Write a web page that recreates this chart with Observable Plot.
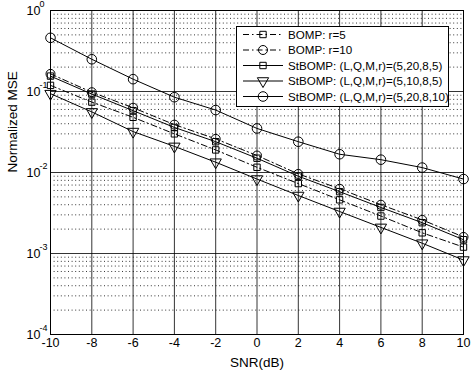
<!DOCTYPE html>
<html><head><meta charset="utf-8">
<script src="https://cdn.jsdelivr.net/npm/d3@7"></script>
<script src="https://cdn.jsdelivr.net/npm/@observablehq/plot@0.6"></script>
<style>body{margin:0;background:#fff}</style>
</head><body><div id="chart"></div>
<script>
// ---- data ----
const snr = [-10, -8, -6, -4, -2, 0, 2, 4, 6, 8, 10];
const bompR5   = [0.119, 0.074, 0.048, 0.030, 0.019, 0.0116, 0.0073, 0.0046, 0.0029, 0.0018, 0.0012];
const bompR10  = [0.165, 0.098, 0.063, 0.039, 0.026, 0.0162, 0.0096, 0.0063, 0.0040, 0.0026, 0.0016];
const stL5Q20  = [0.155, 0.093, 0.058, 0.036, 0.024, 0.0150, 0.0090, 0.0058, 0.0037, 0.0024, 0.00148];
const stL5Q10  = [0.094, 0.056, 0.032, 0.021, 0.0134, 0.0083, 0.0052, 0.0033, 0.0021, 0.00134, 0.00083];
const stR10    = [0.46, 0.25, 0.142, 0.085, 0.059, 0.035, 0.024, 0.0168, 0.0144, 0.0115, 0.0083];
const seriesNames = ["BOMP: r=5", "BOMP: r=10", "StBOMP: (L,Q,M,r)=(5,20,8,5)", "StBOMP: (L,Q,M,r)=(5,10,8,5)", "StBOMP: (L,Q,M,r)=(5,20,8,10)"];
const xTicks = [-10, -8, -6, -4, -2, 0, 2, 4, 6, 8, 10];
const yMajor = [1e-4, 1e-3, 1e-2, 1e-1, 1];
const yExp = ["-4", "-3", "-2", "-1", "0"];
const xLabel = "SNR(dB)";
const yLabel = "Normalized MSE";

// ---- styles ----
const DASHDOT = "6,3,1.5,3";
const styles = [
  {symbol: "square", dash: DASHDOT, r: 3.6, rotate: 0},
  {symbol: "circle", dash: DASHDOT, r: 4.5, rotate: 0},
  {symbol: "square", dash: null, r: 3.6, rotate: 0},
  {symbol: "triangle", dash: null, r: 4.2, rotate: 180},
  {symbol: "circle", dash: null, r: 4.8, rotate: 0}
];
const allValues = [bompR5, bompR10, stL5Q20, stL5Q10, stR10];
const rows = allValues.map((vals, k) => snr.map((x, i) => ({x, y: vals[i], k})));

const yMinor = [];
for (let e = -4; e < 0; e++) for (let m = 2; m <= 9; m++) yMinor.push(m * Math.pow(10, e));

const marks = [
  Plot.ruleY(yMinor, {y: d => d, stroke: "#000", strokeWidth: 0.8, strokeDasharray: "1,2.6"}),
  Plot.ruleY(yMajor, {y: d => d, stroke: "#000", strokeWidth: 0.8}),
  Plot.ruleX(xTicks, {x: d => d, stroke: "#000", strokeWidth: 0.8}),
];
rows.forEach((data, k) => {
  const s = styles[k];
  marks.push(Plot.line(data, {x: "x", y: "y", stroke: "#000", strokeWidth: 1, strokeDasharray: s.dash || undefined}));
  marks.push(Plot.dot(data, {x: "x", y: "y", symbol: s.symbol, r: s.r, stroke: "#000", strokeWidth: 1, fill: "none", rotate: s.rotate}));
});
marks.push(Plot.frame({stroke: "#000", strokeWidth: 1}));
marks.push(Plot.axisX(xTicks, {tickSize: 0, tickPadding: 4, tickFormat: d => String(d), fontSize: 12.5, label: null}));
marks.push(Plot.text(yMajor, {y: d => d, text: () => "10", frameAnchor: "left", dx: -24, textAnchor: "start", fontSize: 12.5}));
marks.push(Plot.text(yMajor, {y: d => d, text: (d, i) => yExp[i], frameAnchor: "left", dx: -11, dy: -6, textAnchor: "start", fontSize: 9}));
marks.push(Plot.text([xLabel], {frameAnchor: "bottom", dy: 32, fontSize: 13.5}));
marks.push(Plot.text([yLabel], {frameAnchor: "left", dx: -38, rotate: -90, fontSize: 13.5}));

const chart = Plot.plot({
  width: 474, height: 375,
  marginLeft: 50, marginRight: 11, marginTop: 10, marginBottom: 41,
  x: {domain: [-10, 10], axis: null},
  y: {type: "log", domain: [1e-4, 1], axis: null},
  style: {fontFamily: "'Liberation Sans', Arial, sans-serif", background: "#fff", color: "#000"},
  marks
});
document.getElementById("chart").appendChild(chart);

// ---- legend ----
const svg = d3.select(chart);
const lg = svg.append("g").attr("font-family", "'Liberation Sans', Arial, sans-serif").attr("font-size", 11.6).attr("text-anchor", "start");
lg.append("rect").attr("x", 236.5).attr("y", 26.5).attr("width", 212).attr("height", 80).attr("fill", "#fff").attr("stroke", "#000");
const ly = [34.5, 50, 65.5, 81, 96.5];
seriesNames.forEach((name, k) => {
  const s = styles[k];
  const g = lg.append("g").attr("transform", `translate(0,${ly[k]})`);
  g.append("line").attr("x1", 243).attr("x2", 283).attr("y1", 0).attr("y2", 0).attr("stroke", "#000").attr("stroke-dasharray", s.dash);
  const sym = s.symbol === "circle" ? d3.symbolCircle : s.symbol === "square" ? d3.symbolSquare : d3.symbolTriangle;
  g.append("path").attr("d", d3.symbol(sym, Math.PI * s.r * s.r)()).attr("transform", `translate(263,0) rotate(${s.rotate})`).attr("fill", "none").attr("stroke", "#000");
  g.append("text").attr("x", 288).attr("y", 0).attr("dy", "0.35em").attr("text-anchor", "start").text(name);
});
</script>
</body></html>
